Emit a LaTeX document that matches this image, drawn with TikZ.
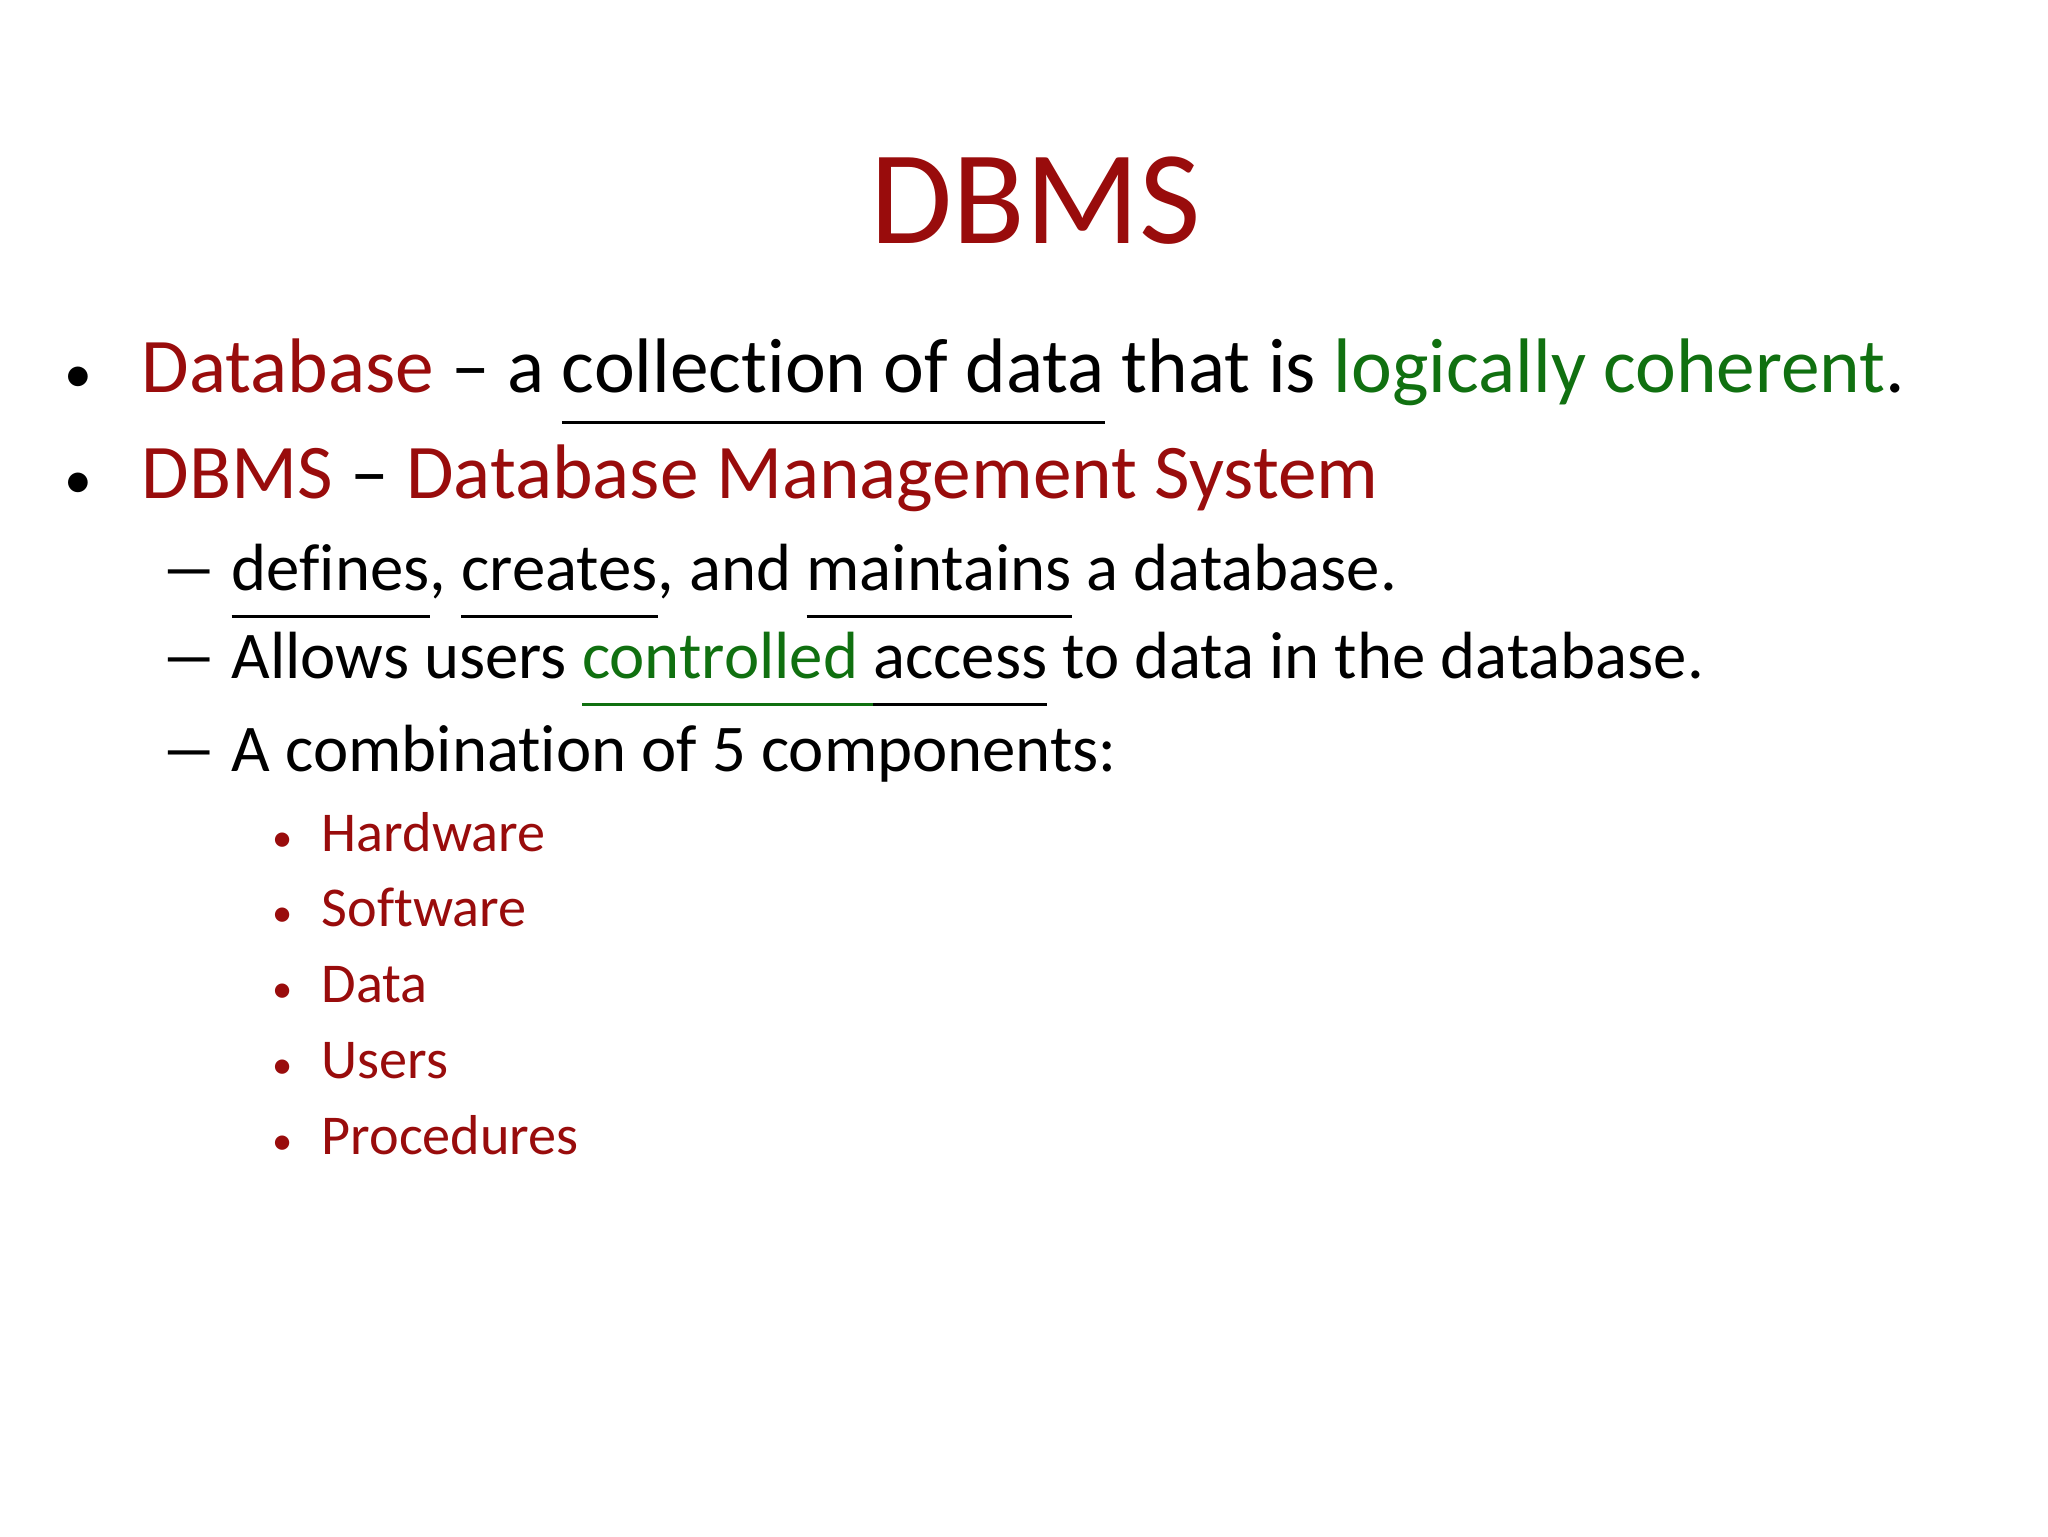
\documentclass[tikz,border=0pt]{standalone}
\usepackage{fontspec}
\setmainfont[Ligatures=NoCommon]{Carlito}
\definecolor{dred}{RGB}{153,12,12}
\definecolor{dgreen}{RGB}{16,112,16}
\newcommand\myul[2][black]{\setbox0\hbox{#2}\rlap{\color{#1}\rule[-0.42em]{\wd0}{0.05em}}\box0\relax}
\newcommand\bul{\scalebox{0.72}{•}}
\newcommand\dsh{\scalebox{0.85}[1]{—}}
\begin{document}
\begin{tikzpicture}[x=0.1mm,y=-0.1mm,
  txt/.style={anchor=base west,inner sep=0pt},
  lone/.style={txt,font=\fontsize{22}{26}\selectfont},
  ltwo/.style={txt,font=\fontsize{19}{23}\selectfont},
  lthree/.style={txt,font=\fontsize{16}{19}\selectfont,text=dred}]
\useasboundingbox[fill=white] (0,0) rectangle (2048,1536);
\node[anchor=base,inner sep=0pt,text=dred,font=\fontsize{38}{44}\selectfont] (title) at (1036,243) {DBMS};
\node[lone] (b1) at (64,392) {\bul};
\node[lone] (t1) at (141,392) {\textcolor{dred}{Database} – a \myul{collection of data} that is \textcolor{dgreen}{logically coherent}.};
\node[lone] (b2) at (64,498) {\bul};
\node[lone] (t2) at (141,498) {\textcolor{dred}{DBMS} – \textcolor{dred}{Database Management System}};
\node[ltwo] (d1) at (163,590) {\dsh};
\node[ltwo] (s1) at (231,590) {\myul{defines}, \myul{creates}, and \myul{maintains} a database.};
\node[ltwo] (d2) at (163,678) {\dsh};
\node[ltwo] (s2) at (231,678) {Allows users \myul[dgreen]{\textcolor{dgreen}{controlled }}\myul{access} to data in the database.};
\node[ltwo] (d3) at (163,771) {\dsh};
\node[ltwo] (s3) at (231,771) {A combination of 5 components:};
\foreach \n/\y/\t in {c1/851/Hardware,c2/926/Software,c3/1002/Data,c4/1078/Users,c5/1154/Procedures}{
  \node[lthree] (\n b) at (272,\y) {\bul};
  \node[lthree] (\n) at (321,\y) {\t};
}
\end{tikzpicture}
\end{document}
